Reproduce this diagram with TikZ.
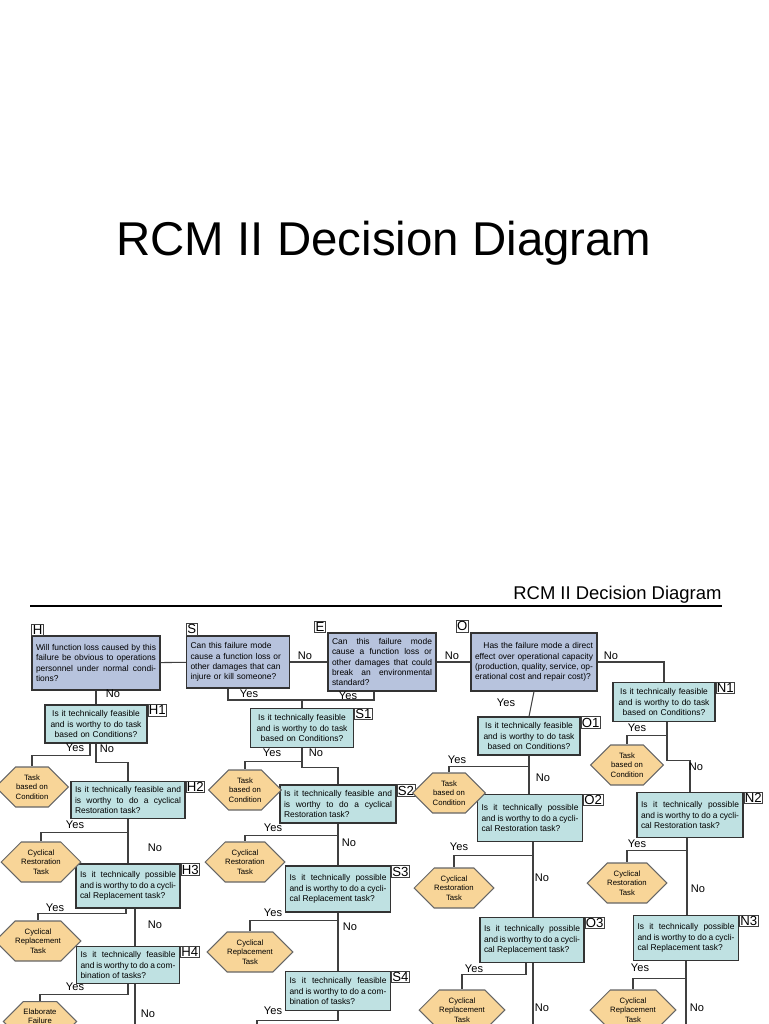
\documentclass[tikz,border=0pt]{standalone}
\usepackage{fontspec}
\setmainfont{Liberation Sans}
\usetikzlibrary{shapes.symbols}
\definecolor{topblue}{HTML}{B7C3DD}
\definecolor{subteal}{HTML}{BFE1E2}
\definecolor{hexfill}{HTML}{F8D598}
\tikzset{qtop/.style={draw=black!80, fill=topblue, line width=.6pt, font=\fontsize{4.8}{5.9}\selectfont,
  inner sep=2pt, align=justify}}
\tikzset{qsub/.style={draw=black!80, fill=subteal, line width=.6pt, font=\fontsize{4.8}{5.9}\selectfont,
  inner sep=2pt, align=justify}}
\tikzset{tag/.style={draw, fill=white, inner sep=.6pt, font=\fontsize{7.5}{8}\selectfont, line width=.4pt}}
\tikzset{hexa/.style={signal, signal to=west and east, draw=black!60, fill=hexfill, align=center,
  font=\fontsize{4.4}{5.3}\selectfont, inner sep=0pt, minimum width=1.05cm, minimum height=.8cm}}
\tikzset{lbl/.style={font=\fontsize{6.3}{7}\selectfont, inner sep=0pt}}

\begin{document}
\begin{tikzpicture}[x=0.02cm, y=-0.02cm, line width=.6pt, draw=black!75]
\clip (0,0) rectangle (768,1024);
\useasboundingbox (0,0) rectangle (768,1024);

\node[font=\fontsize{27}{30}\selectfont] (title) at (384,243) {RCM II Decision Diagram};
\node[font=\fontsize{10.5}{12}\selectfont, anchor=south east, inner sep=0pt] (subtitle) at (722,604) {RCM II Decision Diagram};
\coordinate (rulel) at (30,606);
\coordinate (ruler) at (722,606);
\coordinate (bot) at (0,1030);
\draw[line width=1pt, black] (rulel) -- (ruler);

% main questions
\node[qtop, minimum width=2.56cm, minimum height=1.08cm, text width=2.4cm] (H) at (96,663)
  {Will function loss caused by this failure be obvious to operations personnel under normal conditions?};
\node[qtop, minimum width=2.06cm, minimum height=1.04cm, text width=1.9cm, align=left] (S) at (238,662)
  {Can this failure mode cause a function loss or other damages that can injure or kill someone?};
\node[qtop, minimum width=2.16cm, minimum height=1.16cm, text width=2.0cm] (E) at (382,662)
  {Can this failure mode cause a function loss or other damages that could break an environmental standard?};
\node[qtop, minimum width=2.52cm, minimum height=1.16cm, text width=2.36cm] (O) at (534,662)
  {\hspace*{1em}Has the failure mode a direct effect over operational capacity (production, quality, service, operational cost and repair cost)?};
\node[tag, anchor=south west] at (H.north west) {H};
\node[tag, anchor=south west] at (S.north west) {S};
\node[tag, anchor=south east] at ([xshift=-1pt]E.north west) {E};
\node[tag, anchor=south east] at ([xshift=-1pt]O.north west) {O};

% H column
\node[qsub, minimum width=2.02cm, minimum height=.76cm, text width=1.9cm, align=center] (H1) at (96,724)
  {Is it technically feasible and is worthy to do task based on Conditions?};
\node[qsub, minimum width=2.28cm, minimum height=.74cm, text width=2.12cm] (H2) at (128,800)
  {Is it technically feasible and is worthy to do a cyclical Restoration task?};
\node[qsub, minimum width=2.08cm, minimum height=.88cm, text width=1.92cm] (H3) at (128,886)
  {Is it technically possible and is worthy to do a cyclical Replacement task?};
\node[qsub, minimum width=2.06cm, minimum height=.74cm, text width=1.9cm] (H4) at (128,965)
  {Is it technically feasible and is worthy to do a combination of tasks?};
\foreach \q in {H1,H2,H3,H4} \node[tag, anchor=north west] at (\q.north east) {\q};
\node[hexa] (tH1) at (32,787) {Task\\based on\\Condition};
\node[hexa, minimum width=1.25cm] (tH2) at (41,862) {Cyclical\\Restoration\\Task};
\node[hexa, minimum width=1.25cm] (tH3) at (38,941) {Cyclical\\Replacement\\Task};
\node[hexa, minimum width=1.2cm, anchor=north] (tH4) at (40,1001) {Elaborate\\Failure\\Finding};

% S column
\node[qsub, minimum width=2.06cm, minimum height=.78cm, text width=1.9cm, align=center] (S1) at (302,728)
  {Is it technically feasible and is worthy to do task based on Conditions?};
\node[qsub, minimum width=2.32cm, minimum height=.76cm, text width=2.16cm] (S2) at (338,804)
  {Is it technically feasible and is worthy to do a cyclical Restoration task?};
\node[qsub, minimum width=2.1cm, minimum height=.92cm, text width=1.94cm] (S3) at (338,889)
  {Is it technically possible and is worthy to do a cyclical Replacement task?};
\node[qsub, minimum width=2.1cm, minimum height=.78cm, text width=1.94cm] (S4) at (338,991)
  {Is it technically feasible and is worthy to do a combination of tasks?};
\foreach \q in {S1,S2,S3,S4} \node[tag, anchor=north west] at (\q.north east) {\q};
\node[hexa] (tS1) at (245,790) {Task\\based on\\Condition};
\node[hexa, minimum width=1.25cm] (tS2) at (245,862) {Cyclical\\Restoration\\Task};
\node[hexa, minimum width=1.25cm] (tS3) at (250,952) {Cyclical\\Replacement\\Task};

% O column
\node[qsub, minimum width=2.04cm, minimum height=.76cm, text width=1.9cm, align=center] (O1) at (529,736)
  {Is it technically feasible and is worthy to do task based on Conditions?};
\node[qsub, minimum width=2.1cm, minimum height=.94cm, text width=1.94cm] (O2) at (530,818)
  {Is it technically possible and is worthy to do a cyclical Restoration task?};
\node[qsub, minimum width=2.08cm, minimum height=.9cm, text width=1.92cm] (O3) at (532,940)
  {Is it technically possible and is worthy to do a cyclical Replacement task?};
\foreach \q in {O1,O2,O3} \node[tag, anchor=north west] at (\q.north east) {\q};
\node[hexa] (tO1) at (449,793) {Task\\based on\\Condition};
\node[hexa, minimum width=1.25cm] (tO2) at (454,888) {Cyclical\\Restoration\\Task};
\node[hexa, minimum width=1.25cm] (tO3) at (462,1010) {Cyclical\\Replacement\\Task};

% N column
\node[qsub, minimum width=2.04cm, minimum height=.78cm, text width=1.9cm, align=center] (N1) at (664,702)
  {Is it technically feasible and is worthy to do task based on Conditions?};
\node[qsub, minimum width=2.12cm, minimum height=.9cm, text width=1.96cm] (N2) at (690,815)
  {Is it technically possible and is worthy to do a cyclical Restoration task?};
\node[qsub, minimum width=2.1cm, minimum height=.9cm, text width=1.94cm] (N3) at (686,938)
  {Is it technically possible and is worthy to do a cyclical Replacement task?};
\foreach \q in {N1,N2,N3} \node[tag, anchor=north west] at (\q.north east) {\q};
\node[hexa] (tN1) at (627,765) {Task\\based on\\Condition};
\node[hexa, minimum width=1.25cm] (tN2) at (627,883) {Cyclical\\Restoration\\Task};
\node[hexa, minimum width=1.25cm] (tN3) at (633,1010) {Cyclical\\Replacement\\Task};

% top row
\draw (H) -- (S);
\draw (S) -- (E);
\draw (E) -- (O);
\draw (O.east) -| (N1.north);
\node[lbl] at (305,656) {No};
\node[lbl] at (452,656) {No};
\node[lbl] at (611,656) {No};
\draw (H.south) -- (H1.north);
\node[lbl] at (113,694) {No};
\coordinate (sy) at (302,700);
\draw ([xshift=-.2cm]S.south) |- (sy) -| ([xshift=-.16cm]E.south);
\draw (sy) -- (S1.north);
\node[lbl] at (249,694) {Yes};
\node[lbl] at (348,696) {Yes};
\draw (O.south) -- (O1.north);
\node[lbl] at (506,703) {Yes};

% H branches
\draw ([xshift=-.12cm]H1.south) -- ++(0,12) -| (tH1.north);
\draw (H1.south) -- ++(0,19) -| (H2.north);
\node[lbl] at (75,748) {Yes};
\node[lbl] at (107,749) {No};
\draw (H2.south) -- ++(0,13) -| (tH2.north);
\draw (H2.south) -- (H2.south |- H3.north);
\node[lbl] at (75,825) {Yes};
\node[lbl] at (155,848) {No};
\draw ([xshift=-.04cm]H3.south) -- ++(0,5) -| (tH3.north);
\draw ([xshift=.14cm]H3.south) -- ([xshift=.14cm]H3.south |- H4.north);
\node[lbl] at (55,908) {Yes};
\node[lbl] at (155,925) {No};
\draw (H4.south) -- ++(0,10) -| (tH4.north);
\draw ([xshift=.14cm]H4.south) -- ([xshift=.14cm]H4.south |- bot);
\node[lbl] at (75,987) {Yes};
\node[lbl] at (148,1014) {No};

% S branches
\draw (S1.south) -- ++(0,13) -| (tS1.north);
\draw (S1.south) -- ++(0,19) -| (S2.north);
\node[lbl] at (272,753) {Yes};
\node[lbl] at (316,753) {No};
\draw (S2.south) -- ++(0,12) -| (tS2.north);
\draw (S2.south) -- (S2.south |- S3.north);
\node[lbl] at (273,828) {Yes};
\node[lbl] at (349,843) {No};
\draw (S3.south) -- ++(0,8) -| (tS3.north);
\draw (S3.south) -- (S3.south |- S4.north);
\node[lbl] at (273,913) {Yes};
\node[lbl] at (350,927) {No};
\coordinate (send) at (257,1030);
\draw (S4.south) -- ++(0,9) -| (send);
\node[lbl] at (273,1011) {Yes};

% O branches
\draw (O1.south) -- ++(0,11) -| (tO1.north);
\draw (O1.south) -- (O1.south |- O2.north);
\node[lbl] at (457,760) {Yes};
\node[lbl] at (543,778) {No};
\draw ([xshift=.06cm]O2.south) -- ++(0,13) -| (tO2.north);
\draw ([xshift=.06cm]O2.south) -- ([xshift=.06cm]O2.south |- O3.north);
\node[lbl] at (459,847) {Yes};
\node[lbl] at (542,878) {No};
\draw ([xshift=-.12cm]O3.south) -- ++(0,11) -| (tO3.north);
\draw ([xshift=.02cm]O3.south) -- ([xshift=.02cm]O3.south |- bot);
\node[lbl] at (474,969) {Yes};
\node[lbl] at (542,1008) {No};

% N branches
\draw ([xshift=.06cm]N1.south) -- ++(0,13) -| (tN1.north);
\draw ([xshift=.06cm]N1.south) -- ++(0,38) -| (N2.north);
\node[lbl] at (637,728) {Yes};
\node[lbl] at (696,767) {No};
\draw ([xshift=-.06cm]N2.south) -- ++(0,12) -| (tN2.north);
\draw ([xshift=-.06cm]N2.south) -- ([xshift=-.06cm]N2.south |- N3.north);
\node[lbl] at (637,844) {Yes};
\node[lbl] at (698,889) {No};
\draw (N3.south) -- ++(0,17) -| (tN3.north);
\draw (N3.south) -- (N3.south |- bot);
\node[lbl] at (640,968) {Yes};
\node[lbl] at (697,1008) {No};
\end{tikzpicture}
\end{document}
